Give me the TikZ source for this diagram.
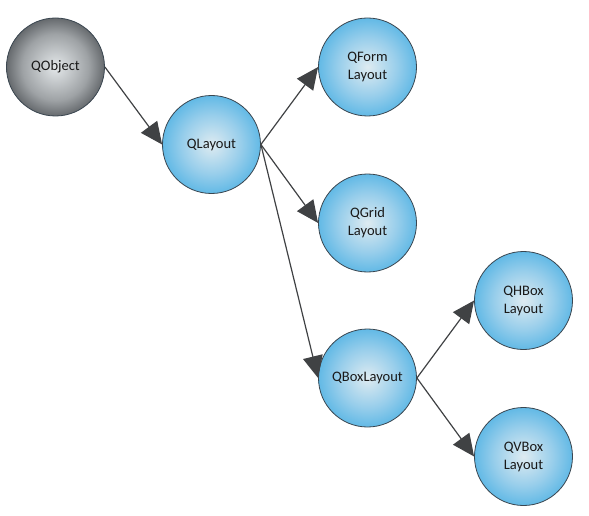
\documentclass[tikz,border=0pt]{standalone}
\usepackage{fontspec}
\setmainfont{Carlito}
\usetikzlibrary{arrows.meta, positioning}

\definecolor{blucentro}{HTML}{DEEBF1}
\definecolor{blumedio}{HTML}{98CEEB}
\definecolor{bluorlo}{HTML}{52B3E4}
\definecolor{grigiocentro}{HTML}{E4E8EA}
\definecolor{grigiomedio}{HTML}{9EA2A5}
\definecolor{grigioorlo}{HTML}{4A4E52}
\definecolor{bordo}{HTML}{3A4650}
\definecolor{scuro}{HTML}{404244}

\pgfdeclareradialshading{sfumablu}{\pgfpoint{0bp}{0bp}}{color(0bp)=(blucentro); color(15bp)=(blumedio); color(28bp)=(bluorlo); color(50bp)=(bluorlo)}
\pgfdeclareradialshading{sfumagrigio}{\pgfpoint{0bp}{0bp}}{color(0bp)=(grigiocentro); color(17bp)=(grigiomedio); color(29bp)=(grigioorlo); color(50bp)=(grigioorlo)}

\begin{document}
\begin{tikzpicture}[
        x=1pt, y=-1pt,
        node distance=78pt and 156pt,
        on grid,
        >={Triangle[length=22pt, width=20pt]},
        bolla/.style={
            circle,
            draw=bordo,
            line width=0.8pt,
            minimum size=98pt,
            inner sep=0pt,
            align=center,
            text=black!90,
            font=\fontsize{14.5}{18}\selectfont,
            shading=sfumablu
        },
        radice/.style={
            bolla,
            shading=sfumagrigio
        },
        freccia/.style={
            ->,
            draw=scuro,
            line width=1.2pt
        }
    ]
    \useasboundingbox (0,0) rectangle (589,516);

    % gerarchia dei layout
    \node[radice] (obj) at (55.5,67) {QObject};
    \node[bolla, below right=77.5pt and 156pt of obj] (lay) {QLayout};
    \node[bolla, above right=77.5pt and 156pt of lay] (form) {QForm\\Layout};
    \node[bolla, below right=78.5pt and 156pt of lay] (grid) {QGrid\\Layout};
    \node[bolla, below right=233.5pt and 156pt of lay] (box) {QBoxLayout};
    \node[bolla, above right=77.5pt and 156pt of box] (hbox) {QHBox\\Layout};
    \node[bolla, below right=78.5pt and 156pt of box] (vbox) {QVBox\\Layout};

    \draw[freccia] (obj.east) -- (lay.west);
    \draw[freccia] (lay.east) -- (form.west);
    \draw[freccia] (lay.east) -- (grid.west);
    \draw[freccia] (lay.east) -- (box.west);
    \draw[freccia] (box.east) -- (hbox.west);
    \draw[freccia] (box.east) -- (vbox.west);

\end{tikzpicture}
\end{document}
